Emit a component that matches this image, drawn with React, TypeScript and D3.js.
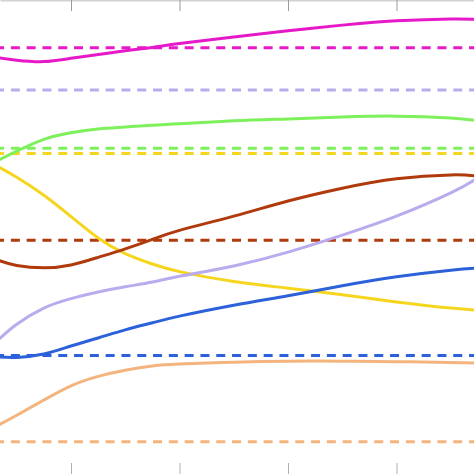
import * as d3 from 'd3';
import { useEffect, useRef } from 'react';

// x positions (same for every series)
const xs = [0.33, 0.5, 0.75, 1, 1.25, 1.5, 1.75, 2, 2.5, 3, 3.5, 4, 4.5, 4.73];
const xTicks = [1, 2, 3, 4];

const magenta = [87.8, 87.3, 87.0, 87.7, 88.5, 89.3, 90.0, 90.8, 92.2, 93.5, 94.7, 95.6, 96.0, 95.9];
const green = [66.2, 68.1, 70.6, 72.0, 72.8, 73.2, 73.6, 73.9, 74.5, 74.9, 75.3, 75.5, 75.1, 74.6];
const yellow = [64.8, 62.6, 58.8, 54.3, 49.8, 46.5, 44.3, 42.7, 40.6, 39.2, 37.8, 36.3, 35.0, 34.6];
const brown = [45.1, 44.0, 43.5, 44.1, 45.7, 47.5, 49.5, 51.4, 54.4, 57.6, 60.3, 62.3, 63.1, 62.9];
const lavender = [28.3, 31.6, 35.0, 37.0, 38.4, 39.5, 40.5, 41.7, 43.9, 46.8, 50.4, 54.4, 59.3, 62.2];
const blue = [24.7, 24.6, 25.3, 27.0, 28.7, 30.4, 31.9, 33.3, 35.6, 37.6, 39.7, 41.6, 43.0, 43.4];
const orange = [10.3, 12.4, 15.6, 18.6, 20.6, 21.9, 22.8, 23.2, 23.6, 23.8, 23.8, 23.7, 23.5, 23.4];

// reference (dashed) levels
const refLevels = [89.9, 81.0, 68.7, 67.6, 49.3, 25.0, 6.8];
const refColors = ['#e619c9', '#b9abee', '#7df05c', '#f6d51e', '#b03a0c', '#2c61da', '#f4b47e'];

const series = [
    { name: 'magenta', values: magenta, color: '#e619c9' },
    { name: 'green', values: green, color: '#7df05c' },
    { name: 'yellow', values: yellow, color: '#f6d51e' },
    { name: 'brown', values: brown, color: '#b03a0c' },
    { name: 'lavender', values: lavender, color: '#b9abee' },
    { name: 'blue', values: blue, color: '#2c61da' },
    { name: 'orange', values: orange, color: '#f4b47e' },
];

export default function App() {
    const ref = useRef<SVGSVGElement | null>(null);

    useEffect(() => {
        const svg = d3.select(ref.current);
        svg.selectAll('*').remove();

        const width = 474;
        const height = 474;

        const x = d3.scaleLinear().domain([0.3456, 4.714]).range([0, width]);
        const y = d3.scaleLinear().domain([0, 100]).range([height, 0]);

        svg.attr('width', width).attr('height', height);

        // dashed reference lines
        const flat = d3.line<number>().x(d => d).y(0);
        svg.append('g')
            .selectAll('path')
            .data(refLevels)
            .enter()
            .append('path')
            .attr('transform', d => `translate(0,${y(d)})`)
            .attr('d', () => flat([x(0.3), x(4.8)]))
            .attr('fill', 'none')
            .attr('stroke', (_, i) => refColors[i])
            .attr('stroke-width', 3)
            .attr('stroke-dasharray', '9 6.8');

        const line = d3.line<number>()
            .x((_, i) => x(xs[i]))
            .y(d => y(d))
            .curve(d3.curveNatural);

        svg.append('g')
            .selectAll('path')
            .data(series)
            .enter()
            .append('path')
            .attr('d', d => line(d.values))
            .attr('fill', 'none')
            .attr('stroke', d => d.color)
            .attr('stroke-width', 3);

        const top = svg.append('g')
            .call(d3.axisTop(x).tickValues(xTicks).tickSizeInner(-11).tickSizeOuter(0).tickFormat(() => ''));
        top.select('.domain').attr('stroke', '#d2d2d2').attr('stroke-width', 2);
        top.selectAll('.tick line').attr('stroke', '#9a9a9a');

        const bottom = svg.append('g')
            .attr('transform', `translate(0,${height})`)
            .call(d3.axisBottom(x).tickValues(xTicks).tickSizeInner(-11).tickSizeOuter(0).tickFormat(() => ''));
        bottom.selectAll('.tick line').attr('stroke', '#b0b0b0');
    }, []);

    return <svg ref={ref} style={{ position: 'absolute', top: 0, left: 0, display: 'block', background: '#fff' }}></svg>;
}
